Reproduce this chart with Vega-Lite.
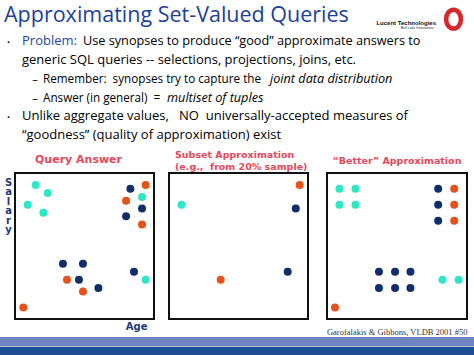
{
  "$schema": "https://vega.github.io/schema/vega-lite/v6.json",
  "padding": 0,
  "background": "white",
  "spacing": 0,
  "config": {"view": {"stroke": null}, "font": "Open Sans", "axis": {"grid": false}},
  "datasets": {
    "slide": [
      {"line": 0, "level": 0, "role": "title", "text": "Approximating Set-Valued Queries"},
      {"line": 0, "role": "logo", "text": "Lucent Technologies"},
      {"line": 0, "role": "logosub", "text": "Bell Labs Innovations"},
      {"line": 0, "role": "ring", "text": ""},
      {"line": 1, "level": 1, "role": "bullet", "text": "•"},
      {"line": 1, "level": 1, "role": "label", "text": "Problem:"},
      {"line": 1, "level": 1, "role": "after", "text": "Use synopses to produce “good” approximate answers to"},
      {"line": 2, "level": 1, "role": "plain", "text": "generic SQL queries -- selections, projections, joins, etc."},
      {"line": 3, "level": 2, "role": "bullet", "text": "–"},
      {"line": 3, "level": 2, "role": "plain", "text": "Remember:\u00a0 synopses try to capture the"},
      {"line": 3, "level": 2, "role": "emph", "text": "joint data distribution"},
      {"line": 4, "level": 2, "role": "bullet", "text": "–"},
      {"line": 4, "level": 2, "role": "plain", "text": "Answer (in general)\u00a0 ="},
      {"line": 4, "level": 2, "role": "emph", "text": "multiset of tuples"},
      {"line": 5, "level": 1, "role": "bullet", "text": "•"},
      {"line": 5, "level": 1, "role": "plain", "text": "Unlike aggregate values,\u00a0\u00a0 NO\u00a0 universally-accepted measures of"},
      {"line": 6, "level": 1, "role": "plain", "text": "“goodness” (quality of approximation) exist"}
    ],
    "answer": [
      {"age": 14.9, "salary": 91.8, "cls": "A"},
      {"age": 23.5, "salary": 86.3, "cls": "A"},
      {"age": 9.1, "salary": 78.3, "cls": "A"},
      {"age": 20.4, "salary": 72.8, "cls": "A"},
      {"age": 91.4, "salary": 83.5, "cls": "A"},
      {"age": 94.0, "salary": 26.8, "cls": "A"},
      {"age": 83.0, "salary": 89.2, "cls": "B"},
      {"age": 91.4, "salary": 75.7, "cls": "B"},
      {"age": 79.9, "salary": 70.3, "cls": "B"},
      {"age": 34.5, "salary": 37.8, "cls": "B"},
      {"age": 48.9, "salary": 37.8, "cls": "B"},
      {"age": 46.0, "salary": 26.8, "cls": "B"},
      {"age": 60.0, "salary": 21.3, "cls": "B"},
      {"age": 85.6, "salary": 32.3, "cls": "B"},
      {"age": 94.0, "salary": 91.8, "cls": "C"},
      {"age": 79.9, "salary": 81.0, "cls": "C"},
      {"age": 91.4, "salary": 64.8, "cls": "C"},
      {"age": 37.4, "salary": 26.8, "cls": "C"},
      {"age": 48.9, "salary": 18.8, "cls": "C"},
      {"age": 6.0, "salary": 7.8, "cls": "C"}
    ],
    "subset": [
      {"age": 94.0, "salary": 91.8, "cls": "C"},
      {"age": 9.0, "salary": 78.3, "cls": "A"},
      {"age": 91.2, "salary": 75.7, "cls": "B"},
      {"age": 85.4, "salary": 32.3, "cls": "B"},
      {"age": 37.2, "salary": 26.8, "cls": "C"}
    ],
    "better": [
      {"age": 8.9, "salary": 89.2, "cls": "A"},
      {"age": 20.3, "salary": 89.2, "cls": "A"},
      {"age": 8.9, "salary": 78.3, "cls": "A"},
      {"age": 20.3, "salary": 78.3, "cls": "A"},
      {"age": 82.5, "salary": 26.8, "cls": "A"},
      {"age": 94.0, "salary": 26.8, "cls": "A"},
      {"age": 79.4, "salary": 89.2, "cls": "B"},
      {"age": 79.4, "salary": 78.3, "cls": "B"},
      {"age": 79.4, "salary": 67.3, "cls": "B"},
      {"age": 37.1, "salary": 32.3, "cls": "B"},
      {"age": 48.6, "salary": 32.3, "cls": "B"},
      {"age": 59.6, "salary": 32.3, "cls": "B"},
      {"age": 37.1, "salary": 21.3, "cls": "B"},
      {"age": 48.6, "salary": 21.3, "cls": "B"},
      {"age": 59.6, "salary": 21.3, "cls": "B"},
      {"age": 90.9, "salary": 89.2, "cls": "C"},
      {"age": 90.9, "salary": 78.3, "cls": "C"},
      {"age": 90.9, "salary": 67.3, "cls": "C"},
      {"age": 5.7, "salary": 7.8, "cls": "C"}
    ]
  },
  "vconcat": [
    {
      "width": 474,
      "height": 148,
      "data": {"name": "slide"},
      "encoding": {
        "y": {"field": "line", "type": "quantitative", "scale": {"domain": [-1.386, 6.461], "reverse": true, "nice": false, "zero": false}, "axis": null},
        "x": {"field": "level", "type": "quantitative", "scale": {"domain": [-0.0476, 22.52], "nice": false, "zero": false}, "axis": null},
        "text": {"field": "text"}
      },
      "layer": [
        {"transform": [{"filter": "datum.role === 'title'"}], "mark": {"type": "text", "align": "left", "baseline": "alphabetic", "dx": 3, "dy": -4, "fontSize": 21.5, "color": "#1c3f9e"}},
        {"transform": [{"filter": "datum.role === 'logo'"}], "mark": {"type": "text", "align": "right", "baseline": "alphabetic", "dx": -38, "dy": -1, "fontSize": 6, "fontWeight": "bold", "font": "Liberation Sans", "color": "#111"}, "encoding": {"x": {"value": "width"}}},
        {"transform": [{"filter": "datum.role === 'logosub'"}], "mark": {"type": "text", "align": "right", "baseline": "alphabetic", "dx": -40, "dy": 3, "fontSize": 3.5, "font": "Liberation Sans", "color": "#333"}, "encoding": {"x": {"value": "width"}}},
        {"transform": [{"filter": "datum.role === 'ring'"}], "mark": {"type": "point", "shape": "M-0.79,0A0.79,1,0,1,0,0.79,0A0.79,1,0,1,0,-0.79,0Z", "filled": false, "size": 353, "stroke": "#d8262c", "strokeWidth": 4.5, "opacity": 1, "xOffset": -20.5, "yOffset": -7}, "encoding": {"x": {"value": "width"}, "text": null}},
        {"transform": [{"filter": "datum.role === 'bullet' && datum.level === 1"}], "mark": {"type": "text", "align": "center", "baseline": "alphabetic", "dx": -13.5, "fontSize": 8, "color": "#000"}},
        {"transform": [{"filter": "datum.role === 'bullet' && datum.level === 2"}], "mark": {"type": "text", "align": "center", "baseline": "alphabetic", "dx": -8, "fontSize": 11, "color": "#000"}},
        {"transform": [{"filter": "datum.role === 'label'"}], "mark": {"type": "text", "align": "left", "baseline": "alphabetic", "fontSize": 13, "color": "#2447a0"}},
        {"transform": [{"filter": "datum.role === 'after'"}], "mark": {"type": "text", "align": "left", "baseline": "alphabetic", "dx": 61, "fontSize": 12.7, "color": "#000"}},
        {"transform": [{"filter": "datum.role === 'plain' && datum.level === 1"}], "mark": {"type": "text", "align": "left", "baseline": "alphabetic", "fontSize": 13, "color": "#000"}},
        {"transform": [{"filter": "datum.role === 'plain' && datum.level === 2"}], "mark": {"type": "text", "align": "left", "baseline": "alphabetic", "fontSize": 11.7, "color": "#000"}},
        {"transform": [{"filter": "datum.role === 'emph' && datum.line === 3"}], "mark": {"type": "text", "align": "left", "baseline": "alphabetic", "dx": 227, "fontSize": 12.7, "fontStyle": "italic", "color": "#000"}},
        {"transform": [{"filter": "datum.role === 'emph' && datum.line === 4"}], "mark": {"type": "text", "align": "left", "baseline": "alphabetic", "dx": 124, "fontSize": 12.7, "fontStyle": "italic", "color": "#000"}}
      ]
    },
    {
      "hconcat": [
        {"width": 15, "height": 146, "data": {"values": []}, "mark": "point"},
        {
          "width": 139,
          "height": 146,
          "data": {"name": "answer"},
          "view": {"stroke": "#111", "strokeWidth": 2},
          "title": {"text": "Query Answer", "anchor": "middle", "dx": -6, "fontSize": 11, "font": "DejaVu Sans", "fontWeight": "bold", "color": "#e5475c", "offset": 8},
          "mark": {"type": "point", "filled": true, "size": 64, "opacity": 1},
          "encoding": {
            "x": {"field": "age", "type": "quantitative", "scale": {"domain": [0, 100], "nice": false}, "axis": {"domain": false, "ticks": false, "labels": false, "grid": false, "title": "Age", "titleX": 132, "titleAlign": "right", "titlePadding": 2, "titleFont": "DejaVu Sans", "titleFontWeight": "bold", "titleFontSize": 10, "titleColor": "#1b3a78"}},
            "y": {"field": "salary", "type": "quantitative", "scale": {"domain": [0, 100], "nice": false}, "axis": {"domain": false, "ticks": false, "labels": false, "grid": false, "title": ["S", "a", "l", "a", "r", "y"], "titleAngle": 0, "titleX": -7, "titleY": 4, "titleAlign": "center", "titleBaseline": "top", "titleLineHeight": 9.5, "titleFont": "DejaVu Sans", "titleFontWeight": "bold", "titleFontSize": 10, "titleColor": "#1b3a78"}},
            "color": {"field": "cls", "type": "nominal", "scale": {"domain": ["A", "B", "C"], "range": ["#2fe6c6", "#102e6c", "#e5531b"]}, "legend": null}
          }
        },
        {"width": 15, "height": 146, "data": {"values": []}, "mark": "point"},
        {
          "width": 139,
          "height": 146,
          "data": {"name": "subset"},
          "view": {"stroke": "#111", "strokeWidth": 2},
          "title": {"text": ["Subset Approximation", "(e.g.,\u00a0 from 20% sample)"], "anchor": "start", "dx": 6, "fontSize": 9.5, "lineHeight": 12, "font": "DejaVu Sans", "fontWeight": "bold", "color": "#e5475c", "offset": 2},
          "mark": {"type": "point", "filled": true, "size": 64, "opacity": 1},
          "encoding": {
            "x": {"field": "age", "type": "quantitative", "scale": {"domain": [0, 100], "nice": false}, "axis": null},
            "y": {"field": "salary", "type": "quantitative", "scale": {"domain": [0, 100], "nice": false}, "axis": null},
            "color": {"field": "cls", "type": "nominal", "scale": {"domain": ["A", "B", "C"], "range": ["#2fe6c6", "#102e6c", "#e5531b"]}, "legend": null}
          }
        },
        {"width": 19, "height": 146, "data": {"values": []}, "mark": "point"},
        {
          "width": 140,
          "height": 146,
          "data": {"name": "better"},
          "view": {"stroke": "#111", "strokeWidth": 2},
          "title": {"text": "“Better” Approximation", "anchor": "middle", "fontSize": 9.5, "font": "DejaVu Sans", "fontWeight": "bold", "color": "#e5475c", "offset": 8},
          "mark": {"type": "point", "filled": true, "size": 64, "opacity": 1},
          "encoding": {
            "x": {"field": "age", "type": "quantitative", "scale": {"domain": [0, 100], "nice": false}, "axis": {"domain": false, "ticks": false, "labels": false, "grid": false, "title": "Garofalakis & Gibbons, VLDB 2001 #50", "titleX": 140, "titleAlign": "right", "titlePadding": 8, "titleFont": "Liberation Serif", "titleFontWeight": "normal", "titleFontSize": 8.5, "titleColor": "#333"}},
            "y": {"field": "salary", "type": "quantitative", "scale": {"domain": [0, 100], "nice": false}, "axis": null},
            "color": {"field": "cls", "type": "nominal", "scale": {"domain": ["A", "B", "C"], "range": ["#2fe6c6", "#102e6c", "#e5531b"]}, "legend": null}
          }
        }
      ],
      "spacing": 0,
      "bounds": "flush"
    },
    {"width": 474, "height": 9.5, "data": {"values": []}, "mark": "point", "view": {"fill": "#6d83c0", "stroke": null}},
    {"width": 474, "height": 10, "data": {"values": []}, "mark": "point", "view": {"fill": "#1f4e96", "stroke": null}}
  ]
}
